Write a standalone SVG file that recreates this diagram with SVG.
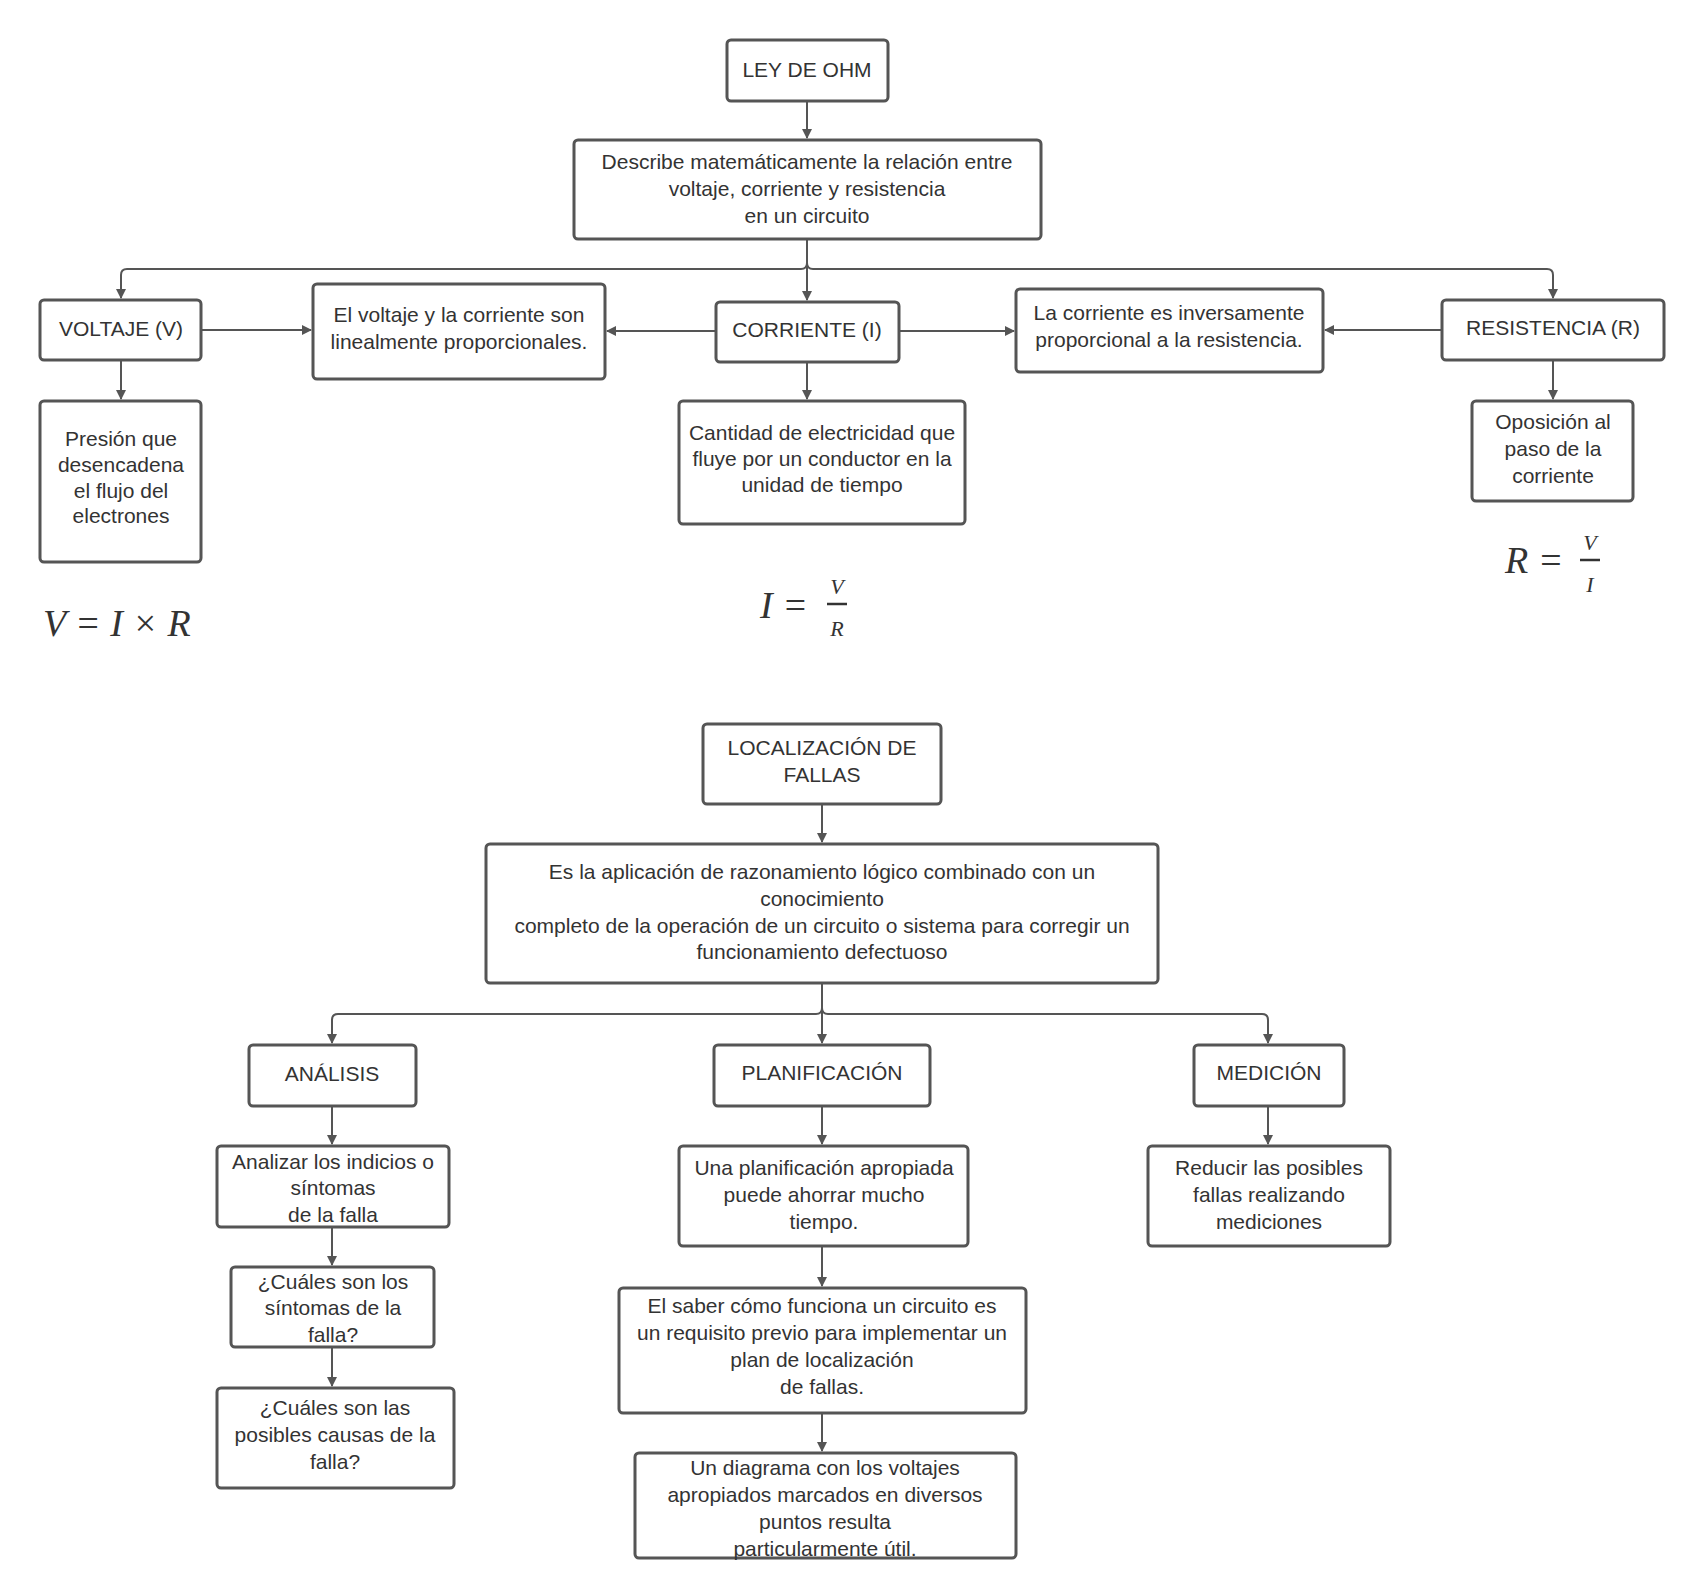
<svg xmlns="http://www.w3.org/2000/svg" width="1695" height="1590" viewBox="0 0 1695 1590">
<style>
.b{fill:#fff;stroke:#555;stroke-width:3}
.t{font-family:"Liberation Sans",Arial,sans-serif;font-size:21px;fill:#333;text-anchor:middle}
.m{font-family:"Liberation Serif","Times New Roman",serif;font-style:italic;fill:#333}
.c{fill:none;stroke:#555;stroke-width:2}
</style>
<defs><marker id="a" markerWidth="10" markerHeight="10" refX="9" refY="5" orient="auto" markerUnits="userSpaceOnUse"><path d="M0,0 L10,5 L0,10 z" fill="#555"/></marker></defs>
<g id="connectors">
<path class="c" marker-end="url(#a)" d="M807,101 V138"/>
<path class="c" marker-end="url(#a)" d="M807,239 V300"/>
<path class="c" marker-end="url(#a)" d="M807,239 V263 Q807,269 801,269 H127 Q121,269 121,275 V298"/>
<path class="c" marker-end="url(#a)" d="M807,239 V263 Q807,269 813,269 H1547 Q1553,269 1553,275 V298"/>
<path class="c" marker-end="url(#a)" d="M201,330 H311"/>
<path class="c" marker-end="url(#a)" d="M716,331 H607"/>
<path class="c" marker-end="url(#a)" d="M899,331 H1014"/>
<path class="c" marker-end="url(#a)" d="M1442,330 H1325"/>
<path class="c" marker-end="url(#a)" d="M121,360 V399"/>
<path class="c" marker-end="url(#a)" d="M807,362 V399"/>
<path class="c" marker-end="url(#a)" d="M1553,360 V399"/>
<path class="c" marker-end="url(#a)" d="M822,804 V842"/>
<path class="c" marker-end="url(#a)" d="M822,983 V1043"/>
<path class="c" marker-end="url(#a)" d="M822,983 V1008 Q822,1014 816,1014 H338 Q332,1014 332,1020 V1043"/>
<path class="c" marker-end="url(#a)" d="M822,983 V1008 Q822,1014 828,1014 H1262 Q1268,1014 1268,1020 V1043"/>
<path class="c" marker-end="url(#a)" d="M332,1106 V1144"/>
<path class="c" marker-end="url(#a)" d="M332,1227 V1265"/>
<path class="c" marker-end="url(#a)" d="M332,1347 V1386"/>
<path class="c" marker-end="url(#a)" d="M822,1106 V1144"/>
<path class="c" marker-end="url(#a)" d="M822,1246 V1286"/>
<path class="c" marker-end="url(#a)" d="M822,1413 V1451"/>
<path class="c" marker-end="url(#a)" d="M1268,1106 V1144"/>
</g>
<g id="ley"><rect class="b" x="727" y="40" width="161" height="61" rx="4"/><text class="t" x="807" y="77">LEY DE OHM</text></g>
<g id="describe"><rect class="b" x="574" y="140" width="467" height="99" rx="4"/><text class="t" x="807" y="169">Describe matemáticamente la relación entre</text><text class="t" x="807" y="196">voltaje, corriente y resistencia</text><text class="t" x="807" y="223">en un circuito</text></g>
<g id="voltaje"><rect class="b" x="40" y="300" width="161" height="60" rx="4"/><text class="t" x="121" y="336">VOLTAJE (V)</text></g>
<g id="elvoltaje"><rect class="b" x="313" y="284" width="292" height="95" rx="4"/><text class="t" x="459" y="322">El voltaje y la corriente son</text><text class="t" x="459" y="349">linealmente proporcionales.</text></g>
<g id="corriente"><rect class="b" x="716" y="302" width="183" height="60" rx="4"/><text class="t" x="807" y="337">CORRIENTE (I)</text></g>
<g id="lacorriente"><rect class="b" x="1016" y="289" width="307" height="83" rx="4"/><text class="t" x="1169" y="320">La corriente es inversamente</text><text class="t" x="1169" y="347">proporcional a la resistencia.</text></g>
<g id="resistencia"><rect class="b" x="1442" y="300" width="222" height="60" rx="4"/><text class="t" x="1553" y="335">RESISTENCIA (R)</text></g>
<g id="presion"><rect class="b" x="40" y="401" width="161" height="161" rx="4"/><text class="t" x="121" y="446">Presión que</text><text class="t" x="121" y="472">desencadena</text><text class="t" x="121" y="498">el flujo del</text><text class="t" x="121" y="523">electrones</text></g>
<g id="cantidad"><rect class="b" x="679" y="401" width="286" height="123" rx="4"/><text class="t" x="822" y="440">Cantidad de electricidad que</text><text class="t" x="822" y="466">fluye por un conductor en la</text><text class="t" x="822" y="492">unidad de tiempo</text></g>
<g id="oposicion"><rect class="b" x="1472" y="401" width="161" height="100" rx="4"/><text class="t" x="1553" y="429">Oposición al</text><text class="t" x="1553" y="456">paso de la</text><text class="t" x="1553" y="483">corriente</text></g>
<g id="f1"><text class="m" x="43" y="636" font-size="38">V = I × R</text></g>
<g id="f2"><text class="m" x="760" y="618" font-size="38">I =</text><line x1="827" y1="604" x2="847" y2="604" stroke="#333" stroke-width="2.5"/><text class="m" x="837" y="594" font-size="22" text-anchor="middle">V</text><text class="m" x="837" y="636" font-size="22" text-anchor="middle">R</text></g>
<g id="f3"><text class="m" x="1505" y="573" font-size="38">R =</text><line x1="1580" y1="560" x2="1600" y2="560" stroke="#333" stroke-width="2.5"/><text class="m" x="1590" y="550" font-size="22" text-anchor="middle">V</text><text class="m" x="1590" y="592" font-size="22" text-anchor="middle">I</text></g>
<g id="loc"><rect class="b" x="703" y="724" width="238" height="80" rx="4"/><text class="t" x="822" y="755">LOCALIZACIÓN DE</text><text class="t" x="822" y="782">FALLAS</text></g>
<g id="esla"><rect class="b" x="486" y="844" width="672" height="139" rx="4"/><text class="t" x="822" y="879">Es la aplicación de razonamiento lógico combinado con un</text><text class="t" x="822" y="906">conocimiento</text><text class="t" x="822" y="933">completo de la operación de un circuito o sistema para corregir un</text><text class="t" x="822" y="959">funcionamiento  defectuoso</text></g>
<g id="analisis"><rect class="b" x="249" y="1045" width="167" height="61" rx="4"/><text class="t" x="332" y="1081">ANÁLISIS</text></g>
<g id="planif"><rect class="b" x="714" y="1045" width="216" height="61" rx="4"/><text class="t" x="822" y="1080">PLANIFICACIÓN</text></g>
<g id="medicion"><rect class="b" x="1194" y="1045" width="150" height="61" rx="4"/><text class="t" x="1269" y="1080">MEDICIÓN</text></g>
<g id="analizar"><rect class="b" x="217" y="1146" width="232" height="81" rx="4"/><text class="t" x="333" y="1169">Analizar los indicios o</text><text class="t" x="333" y="1195">síntomas</text><text class="t" x="333" y="1222">de la falla</text></g>
<g id="sintomas"><rect class="b" x="231" y="1267" width="203" height="80" rx="4"/><text class="t" x="333" y="1289">¿Cuáles son los</text><text class="t" x="333" y="1315">síntomas de la</text><text class="t" x="333" y="1342">falla?</text></g>
<g id="causas"><rect class="b" x="217" y="1388" width="237" height="100" rx="4"/><text class="t" x="335" y="1415">¿Cuáles son las</text><text class="t" x="335" y="1442">posibles causas de la</text><text class="t" x="335" y="1469">falla?</text></g>
<g id="unaplan"><rect class="b" x="679" y="1146" width="289" height="100" rx="4"/><text class="t" x="824" y="1175">Una planificación apropiada</text><text class="t" x="824" y="1202">puede ahorrar mucho</text><text class="t" x="824" y="1229">tiempo.</text></g>
<g id="saber"><rect class="b" x="619" y="1288" width="407" height="125" rx="4"/><text class="t" x="822" y="1313">El saber cómo funciona un circuito es</text><text class="t" x="822" y="1340">un requisito previo para implementar un</text><text class="t" x="822" y="1367">plan de localización</text><text class="t" x="822" y="1394">de fallas.</text></g>
<g id="diagrama"><rect class="b" x="635" y="1453" width="381" height="105" rx="4"/><text class="t" x="825" y="1475">Un diagrama con los voltajes</text><text class="t" x="825" y="1502">apropiados marcados en diversos</text><text class="t" x="825" y="1529">puntos resulta</text><text class="t" x="825" y="1556">particularmente útil.</text></g>
<g id="reducir"><rect class="b" x="1148" y="1146" width="242" height="100" rx="4"/><text class="t" x="1269" y="1175">Reducir las posibles</text><text class="t" x="1269" y="1202">fallas realizando</text><text class="t" x="1269" y="1229">mediciones</text></g>
</svg>
